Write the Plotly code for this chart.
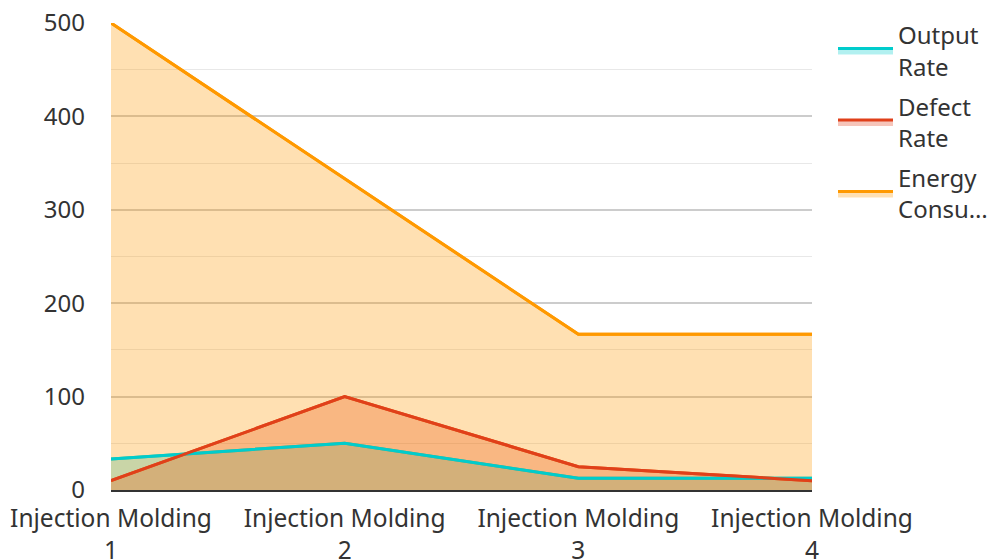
import plotly.graph_objects as go

categories = ["Injection Molding<br>1", "Injection Molding<br>2", "Injection Molding<br>3", "Injection Molding<br>4"]
output_rate = [33.3, 50, 12.5, 12.5]
defect_rate = [10, 100, 25, 10]
energy = [500, 333.3, 166.7, 166.7]
names = ["Output<br>Rate", "Defect<br>Rate", "Energy<br>Consu…"]
line_colors = ["#00CCCC", "#E0401A", "#FF9900"]
fill_colors = ["rgba(0,204,204,0.3)", "rgba(224,64,26,0.3)", "rgba(255,153,0,0.3)"]
series = [output_rate, defect_rate, energy]

fig = go.Figure()
# filled areas (shown in legend)
for i, (name, vals, lc, fc) in enumerate(zip(names, series, line_colors, fill_colors)):
    fig.add_trace(go.Scatter(
        x=categories, y=vals, name=name, mode="lines", legendgroup=str(i),
        line=dict(color=lc, width=3), fill="tozeroy", fillcolor=fc,
    ))
# lines on top of all fills
for i, (name, vals, lc) in enumerate(zip(names, series, line_colors)):
    fig.add_trace(go.Scatter(
        x=categories, y=vals, name=name, mode="lines", legendgroup=str(i),
        line=dict(color=lc, width=3), showlegend=False, hoverinfo="skip",
    ))

fig.update_layout(
    width=991, height=560,
    margin=dict(l=111, r=179, t=23, b=70),
    paper_bgcolor="white", plot_bgcolor="white",
    font=dict(family="Noto Sans", size=24, color="#333333"),
    legend=dict(xref="container", yref="container", x=833 / 991, y=0.977,
                yanchor="top", xanchor="left",
                font=dict(size=24), tracegroupgap=6, traceorder="grouped",
                itemwidth=55, bgcolor="rgba(0,0,0,0)"),
    xaxis=dict(type="category", range=[0, 3], showgrid=False, automargin=False,
               showline=True, linecolor="#333333", linewidth=2,
               tickfont=dict(size=24.5), ticks="", zeroline=False,
               ticklabelstandoff=6),
    yaxis=dict(range=[0, 500], dtick=100, showgrid=True, gridcolor="#cccccc",
               gridwidth=1.5, zeroline=False, showline=False, automargin=False,
               tickfont=dict(size=24), ticklabelstandoff=25,
               minor=dict(dtick=50, showgrid=True, gridcolor="#e8e8e8", gridwidth=1)),
    showlegend=True,
)
fig.write_html("out.html", config={"displayModeBar": False})

# remove default page margin so the figure sits at the window's top-left corner
with open("out.html", "r", encoding="utf-8") as f:
    html = f.read()
html = html.replace("<body>", '<body style="margin:0">', 1)
with open("out.html", "w", encoding="utf-8") as f:
    f.write(html)
